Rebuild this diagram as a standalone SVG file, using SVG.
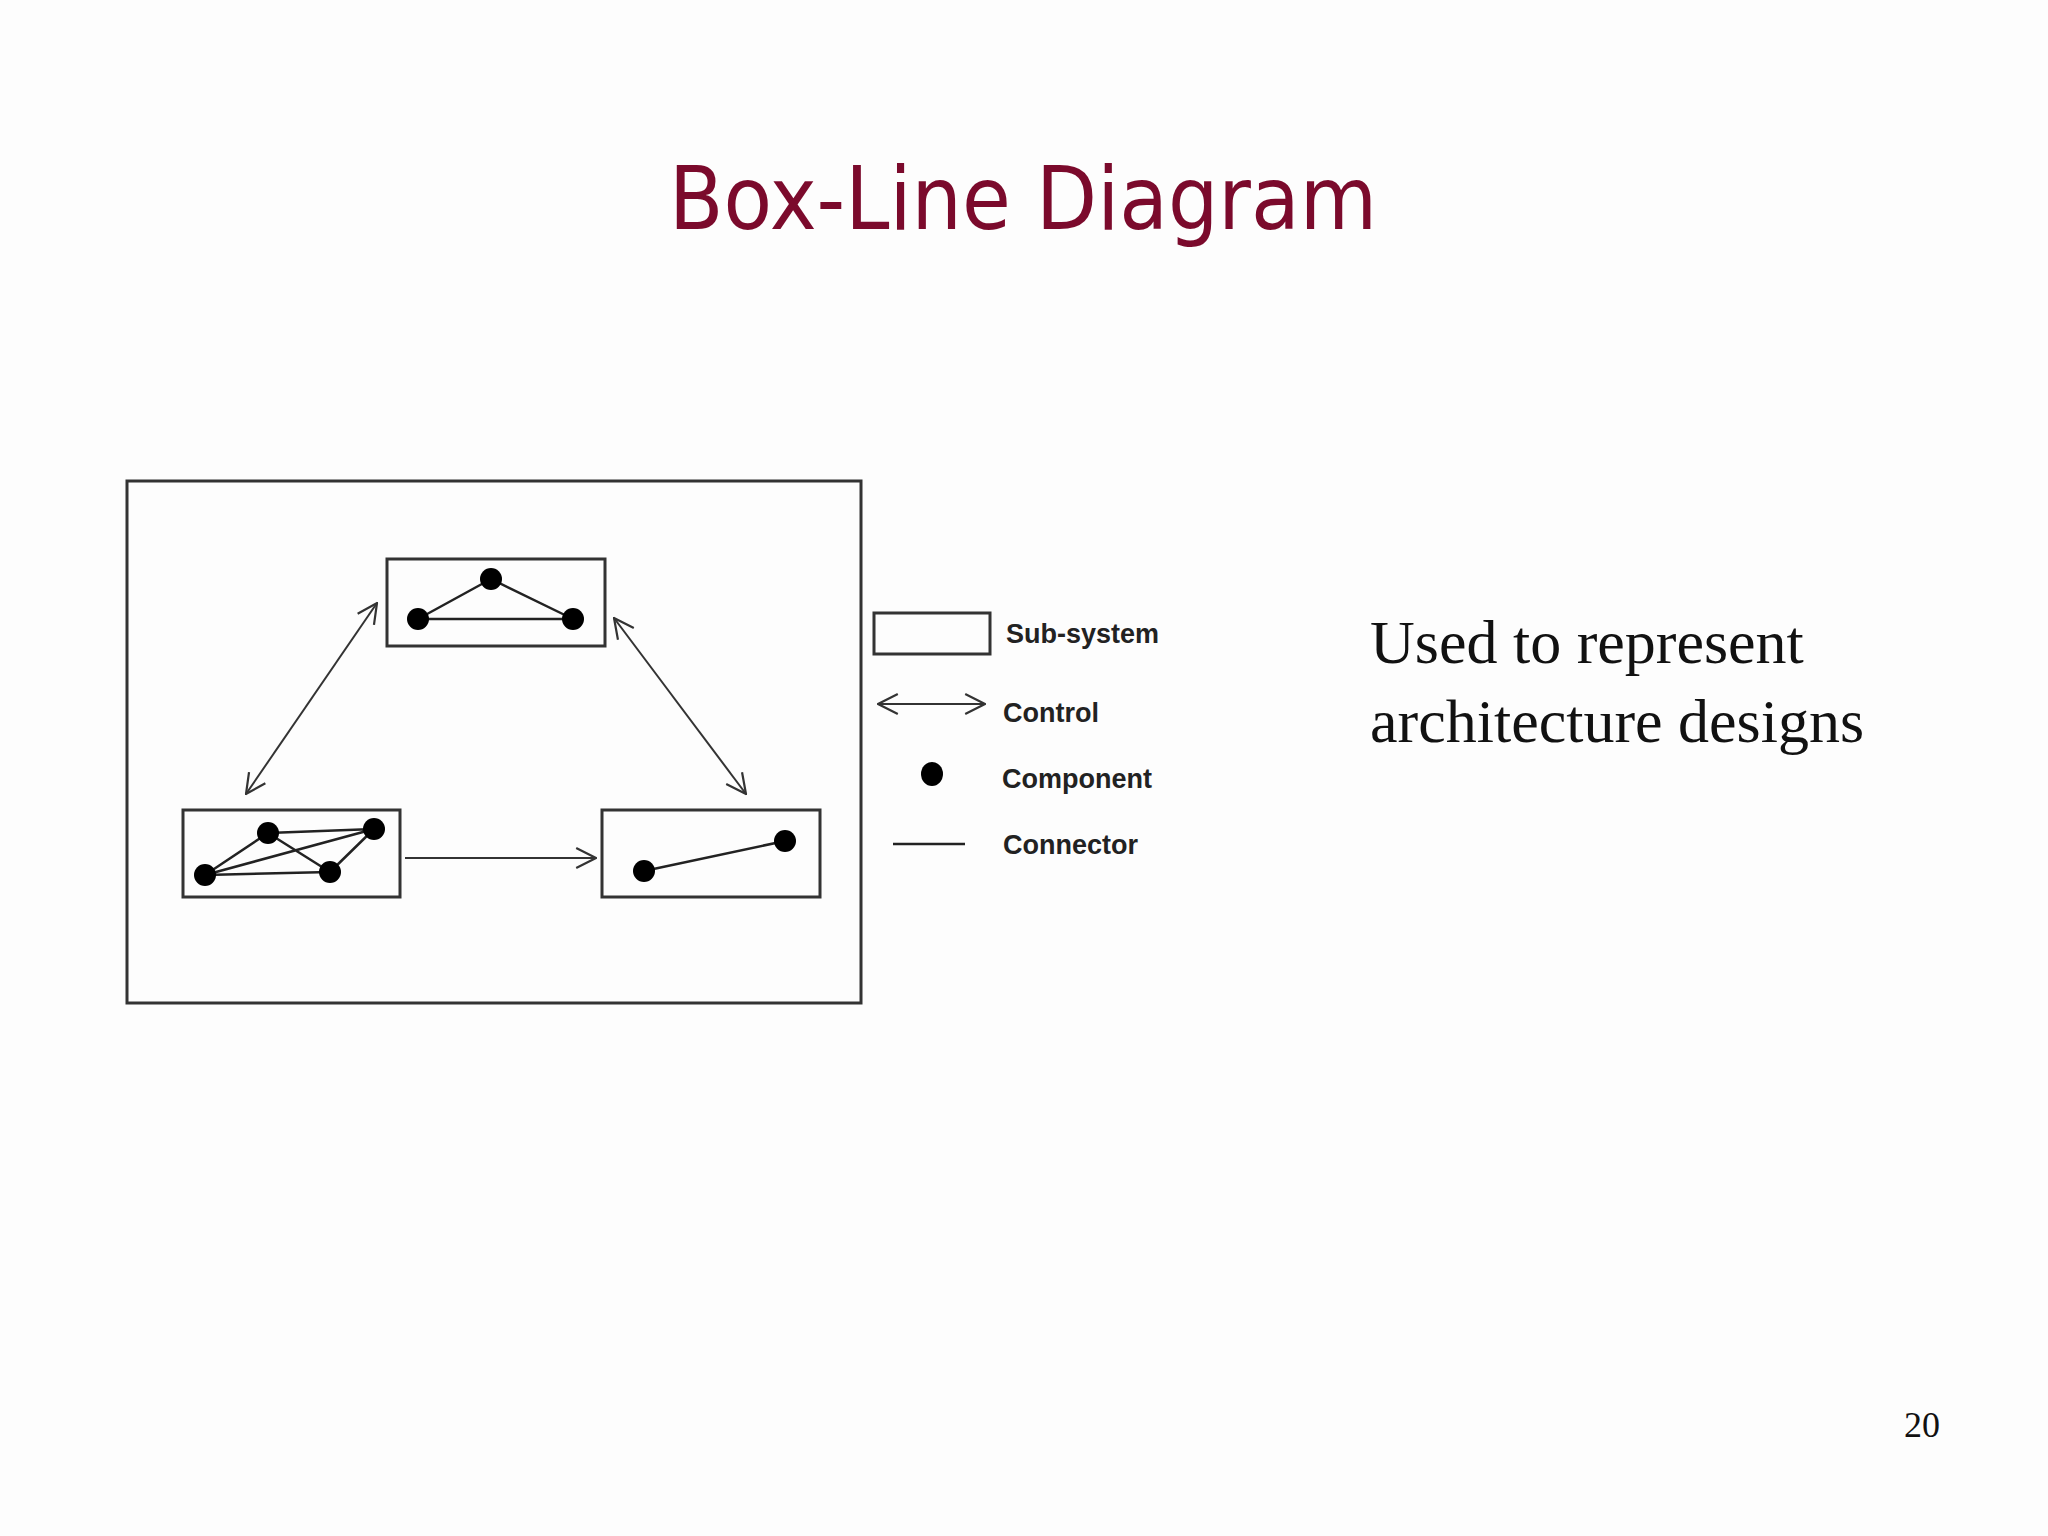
<svg xmlns="http://www.w3.org/2000/svg" width="2048" height="1536" viewBox="0 0 2048 1536">
<defs>
<style>
.box{fill:none;stroke:#333;stroke-width:3}
.ln{stroke:#222;stroke-width:2.5;fill:none}
.ctl{stroke:#333;stroke-width:2;fill:none}
.dot{fill:#000}
.leg{font-family:"Liberation Sans Narrow","Liberation Sans",sans-serif;font-weight:bold;font-size:27px;fill:#222}
.body{font-family:"Liberation Serif",serif;font-size:62px;fill:#111}
</style>
<marker id="ah" viewBox="0 0 20 20" refX="19" refY="10" markerWidth="22" markerHeight="22" markerUnits="userSpaceOnUse" orient="auto-start-reverse">
<path d="M1,1 L19,10 L1,19" fill="none" stroke="#333" stroke-width="2"/>
</marker>
</defs>
<rect width="2048" height="1536" fill="#fdfdfd"/>
<text x="1023" y="229" text-anchor="middle" font-family="'DejaVu Sans',sans-serif" font-size="88" fill="#7b0a2c" textLength="708" lengthAdjust="spacingAndGlyphs">Box-Line Diagram</text>
<g id="outer"><rect x="127" y="481" width="734" height="522" class="box"/></g>
<g id="top">
<rect x="387" y="559" width="218" height="87" class="box"/>
<path class="ln" d="M491,579 L418,619 L573,619 Z"/>
<circle class="dot" cx="491" cy="579" r="11"/><circle class="dot" cx="418" cy="619" r="11"/><circle class="dot" cx="573" cy="619" r="11"/>
</g>
<g id="left">
<rect x="183" y="810" width="217" height="87" class="box"/>
<path class="ln" d="M268,833 L374,829 M205,875 L330,872 M205,875 L268,833 M205,875 L374,829 M268,833 L330,872 M374,829 L330,872"/>
<circle class="dot" cx="268" cy="833" r="11"/><circle class="dot" cx="374" cy="829" r="11"/><circle class="dot" cx="205" cy="875" r="11"/><circle class="dot" cx="330" cy="872" r="11"/>
</g>
<g id="right">
<rect x="602" y="810" width="218" height="87" class="box"/>
<path class="ln" d="M644,871 L785,841"/>
<circle class="dot" cx="644" cy="871" r="11"/><circle class="dot" cx="785" cy="841" r="11"/>
</g>
<g id="connectors">
<line class="ctl" x1="246" y1="794" x2="377" y2="603" marker-start="url(#ah)" marker-end="url(#ah)"/>
<line class="ctl" x1="614" y1="618" x2="746" y2="794" marker-start="url(#ah)" marker-end="url(#ah)"/>
<line class="ctl" x1="405" y1="858" x2="596" y2="858" marker-end="url(#ah)"/>
</g>
<g id="legend">
<rect x="874" y="613" width="116" height="41" class="box"/>
<text class="leg" x="1006" y="643">Sub-system</text>
<line class="ctl" x1="878" y1="704" x2="985" y2="704" marker-start="url(#ah)" marker-end="url(#ah)"/>
<text class="leg" x="1003" y="722">Control</text>
<ellipse class="dot" cx="932" cy="774" rx="11" ry="12"/>
<text class="leg" x="1002" y="788">Component</text>
<line class="ln" x1="893" y1="844" x2="965" y2="844"/>
<text class="leg" x="1003" y="854">Connector</text>
</g>
<text class="body" x="1370" y="663">Used to represent</text>
<text class="body" x="1370" y="742">architecture designs</text>
<text x="1904" y="1437" font-family="'Liberation Serif',serif" font-size="36" fill="#111">20</text>
</svg>
